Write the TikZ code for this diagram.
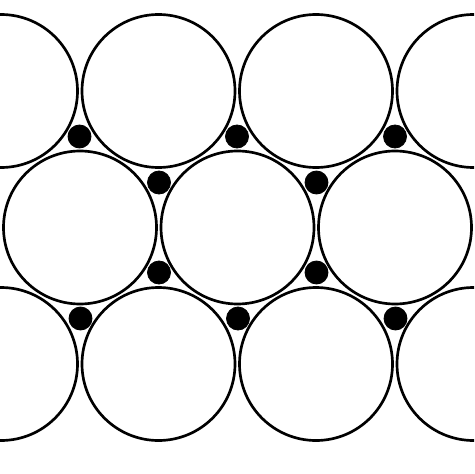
\documentclass[tikz,border=0pt]{standalone}
\usepackage{tikz}
\tikzset{every picture/.style={line width=0.75pt}}
\tikzset{grain/.style={draw=black,line width=2pt},
         pore/.style={fill=black,draw=black,line width=0.6pt}}

\begin{document}
\begin{tikzpicture}[x=0.75pt,y=0.75pt,yscale=-1,xscale=1]
    %set diagram frame: 474 x 474
    \useasboundingbox (0,0) rectangle (474,474);
    \fill[white] (0,0) rectangle (474,474);
    \clip (0,0) rectangle (474,474);

    %Shape: Circle [top row]
    \draw[grain] (1,91) circle (76.5);
    %Shape: Circle [top row]
    \draw[grain] (158.5,91) circle (76.5);
    %Shape: Circle [top row]
    \draw[grain] (316,91) circle (76.5);
    %Shape: Circle [top row]
    \draw[grain] (473.5,91) circle (76.5);

    %Shape: Circle [middle row]
    \draw[grain] (80,227.5) circle (76.5);
    %Shape: Circle [middle row]
    \draw[grain] (237.5,227.5) circle (76.5);
    %Shape: Circle [middle row]
    \draw[grain] (395,227.5) circle (76.5);

    %Shape: Circle [bottom row]
    \draw[grain] (1,364) circle (76.5);
    %Shape: Circle [bottom row]
    \draw[grain] (158.5,364) circle (76.5);
    %Shape: Circle [bottom row]
    \draw[grain] (316,364) circle (76.5);
    %Shape: Circle [bottom row]
    \draw[grain] (473.5,364) circle (76.5);

    %Shape: Dot [between top and middle rows]
    \draw[pore] (79.5,136.5) circle (11.5);
    %Shape: Dot
    \draw[pore] (237,136.5) circle (11.5);
    %Shape: Dot
    \draw[pore] (395,136.5) circle (11.5);
    %Shape: Dot
    \draw[pore] (159,182.5) circle (11.5);
    %Shape: Dot
    \draw[pore] (316.5,182.5) circle (11.5);

    %Shape: Dot [between middle and bottom rows]
    \draw[pore] (159,272.5) circle (11.5);
    %Shape: Dot
    \draw[pore] (316.5,272.5) circle (11.5);
    %Shape: Dot
    \draw[pore] (80.5,318.5) circle (11.5);
    %Shape: Dot
    \draw[pore] (238,318.5) circle (11.5);
    %Shape: Dot
    \draw[pore] (395.5,318.5) circle (11.5);
\end{tikzpicture}
\end{document}
